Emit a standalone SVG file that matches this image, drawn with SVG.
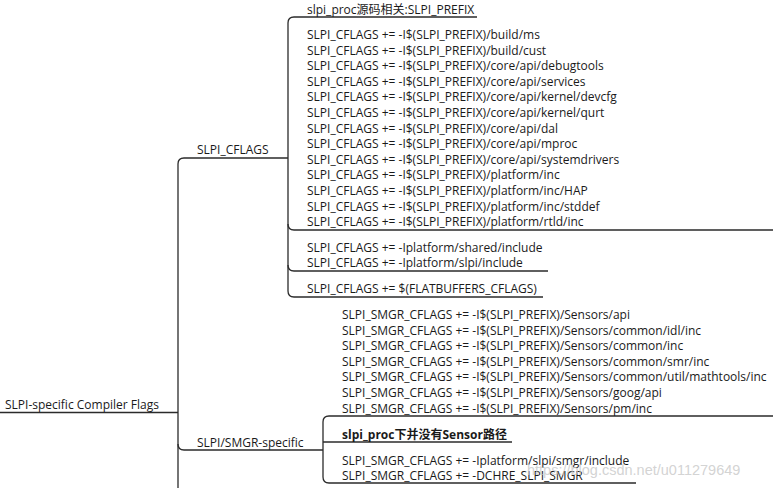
<svg xmlns="http://www.w3.org/2000/svg" width="773" height="488" viewBox="0 0 773 488">
<style>
text{font-family:"Open Sans","Noto Sans CJK SC",sans-serif;fill:#1a1a1a}
.t{font-size:12px}
.b{font-size:12px}
.bold{font-size:12px;font-weight:bold}
.ln{fill:none;stroke:#2b2b2b;stroke-width:1.3}
.wm{font-family:"Liberation Sans",sans-serif;font-size:14.5px;fill:#c8c8c8;fill-opacity:0.8}
</style>
<rect width="773" height="488" fill="#ffffff"/>
<g id="connectors">
<path class="ln" d="M0,412.5 H178"/>
<path class="ln" d="M178,488 V164 Q178,158 184,158 H288"/>
<path class="ln" d="M178,444 Q178,450 184,450 H323"/>
<path class="ln" d="M477,17 H294 Q288,17 288,23 V291 Q288,297 294,297 H543"/>
<path class="ln" d="M288,224 Q288,230 294,230 H773"/>
<path class="ln" d="M288,265 Q288,271 294,271 H548"/>
<path class="ln" d="M773,416 H329 Q323,416 323,422 V477 Q323,483 329,483 H636"/>
<path class="ln" d="M323,442 H512"/>
</g>
<g id="root"><text class="b" x="5" y="409">SLPI-specific Compiler Flags</text></g>
<g id="slpi_cflags"><text class="b" x="197" y="154">SLPI_CFLAGS</text></g>
<g id="slpi_smgr"><text class="b" x="197" y="446.5">SLPI/SMGR-specific</text></g>
<g id="slpi_prefix"><text class="t" x="307" y="13.5">slpi_proc源码相关:SLPI_PREFIX</text></g>
<g id="cflags_block1" class="t">
<text x="307" y="39">SLPI_CFLAGS += -I$(SLPI_PREFIX)/build/ms</text>
<text x="307" y="54.6">SLPI_CFLAGS += -I$(SLPI_PREFIX)/build/cust</text>
<text x="307" y="70.2">SLPI_CFLAGS += -I$(SLPI_PREFIX)/core/api/debugtools</text>
<text x="307" y="85.8">SLPI_CFLAGS += -I$(SLPI_PREFIX)/core/api/services</text>
<text x="307" y="101.4">SLPI_CFLAGS += -I$(SLPI_PREFIX)/core/api/kernel/devcfg</text>
<text x="307" y="117">SLPI_CFLAGS += -I$(SLPI_PREFIX)/core/api/kernel/qurt</text>
<text x="307" y="132.6">SLPI_CFLAGS += -I$(SLPI_PREFIX)/core/api/dal</text>
<text x="307" y="148.2">SLPI_CFLAGS += -I$(SLPI_PREFIX)/core/api/mproc</text>
<text x="307" y="163.8">SLPI_CFLAGS += -I$(SLPI_PREFIX)/core/api/systemdrivers</text>
<text x="307" y="179.4">SLPI_CFLAGS += -I$(SLPI_PREFIX)/platform/inc</text>
<text x="307" y="195">SLPI_CFLAGS += -I$(SLPI_PREFIX)/platform/inc/HAP</text>
<text x="307" y="210.6">SLPI_CFLAGS += -I$(SLPI_PREFIX)/platform/inc/stddef</text>
<text x="307" y="226.2">SLPI_CFLAGS += -I$(SLPI_PREFIX)/platform/rtld/inc</text>
</g>
<g id="cflags_block2" class="t">
<text x="307" y="251.5">SLPI_CFLAGS += -Iplatform/shared/include</text>
<text x="307" y="267.1">SLPI_CFLAGS += -Iplatform/slpi/include</text>
</g>
<g id="cflags_block3" class="t">
<text x="307" y="293">SLPI_CFLAGS += $(FLATBUFFERS_CFLAGS)</text>
</g>
<g id="smgr_block1" class="t">
<text x="342" y="318.9">SLPI_SMGR_CFLAGS += -I$(SLPI_PREFIX)/Sensors/api</text>
<text x="342" y="334.5">SLPI_SMGR_CFLAGS += -I$(SLPI_PREFIX)/Sensors/common/idl/inc</text>
<text x="342" y="350.1">SLPI_SMGR_CFLAGS += -I$(SLPI_PREFIX)/Sensors/common/inc</text>
<text x="342" y="365.7">SLPI_SMGR_CFLAGS += -I$(SLPI_PREFIX)/Sensors/common/smr/inc</text>
<text x="342" y="381.3">SLPI_SMGR_CFLAGS += -I$(SLPI_PREFIX)/Sensors/common/util/mathtools/inc</text>
<text x="342" y="396.9">SLPI_SMGR_CFLAGS += -I$(SLPI_PREFIX)/Sensors/goog/api</text>
<text x="342" y="412.5">SLPI_SMGR_CFLAGS += -I$(SLPI_PREFIX)/Sensors/pm/inc</text>
</g>
<g id="smgr_note"><text class="bold" x="342" y="438.5">slpi_proc下并没有Sensor路径</text></g>
<g id="smgr_block2" class="t">
<text x="342" y="464.5">SLPI_SMGR_CFLAGS += -Iplatform/slpi/smgr/include</text>
<text x="342" y="480">SLPI_SMGR_CFLAGS += -DCHRE_SLPI_SMGR</text>
</g>
<text class="wm" x="527" y="475">https://blog.csdn.net/u011279649</text>
</svg>
